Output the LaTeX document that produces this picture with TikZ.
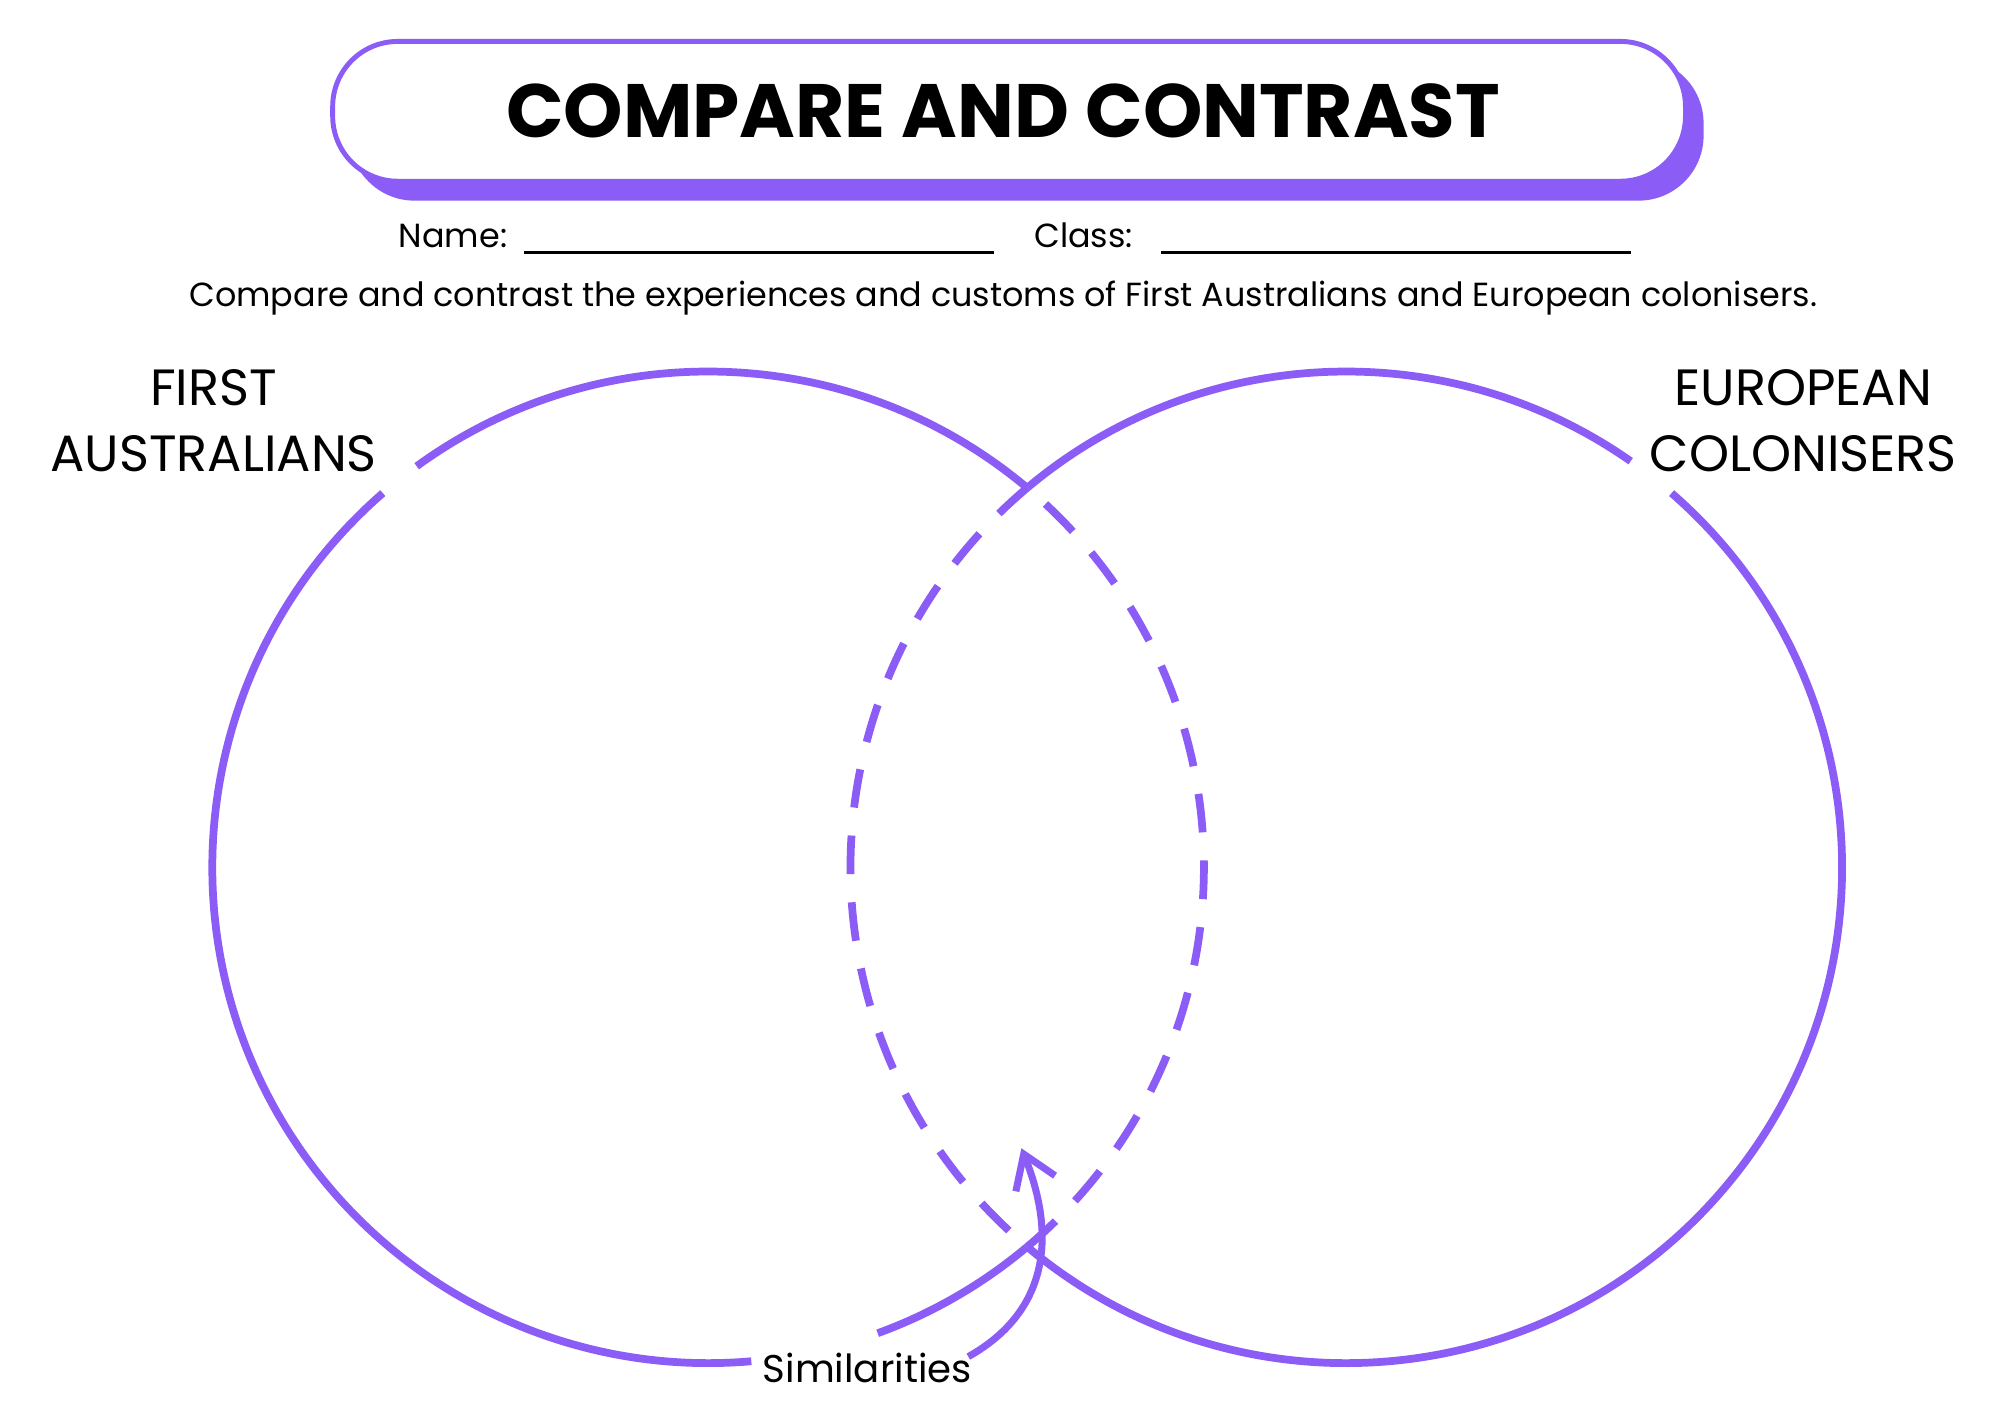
\documentclass[tikz,border=0pt]{standalone}
\usepackage{fontspec}
\setmainfont{Poppins}
\usetikzlibrary{arrows.meta}
\definecolor{vp}{RGB}{139,92,246}
\begin{document}
\begin{tikzpicture}[x=0.012945cm,y=0.012945cm,
  ring/.style={draw=vp,line width=2.2pt},
  ringdash/.style={draw=vp,line width=2.2pt,dash pattern=on 11pt off 8pt},
  lbl/.style={font=\fontsize{14.5}{19}\selectfont,align=center}]
\useasboundingbox[fill=white] (0,0) rectangle (1545,1092);
% title
\fill[vp,rounded corners=0.65cm] (270,937) rectangle (1316,1047);
\draw[vp,fill=white,line width=1.4pt,rounded corners=0.65cm] (257,952) rectangle (1302,1060);
\node[font=\fontsize{21.5}{26}\selectfont\bfseries] (title) at (775,1006) {COMPARE AND CONTRAST};
\node[font=\fontsize{9.5}{11}\selectfont] (name) at (350,910) {Name:};
\draw[line width=0.9pt] (405,897) -- (768,897);
\node[font=\fontsize{9.5}{11}\selectfont] (class) at (837,910) {Class:};
\draw[line width=0.9pt] (897,897) -- (1260,897);
\node[font=\fontsize{9.5}{11}\selectfont] (instr) at (775,862) {Compare and contrast the experiences and customs of First Australians and European colonisers.};
% circles
\coordinate (lc) at (547,422);
\coordinate (rc) at (1040,422);
\draw[ring] ([shift={(50:383)}]lc) arc[start angle=50,end angle=126,radius=383];
\draw[ring] ([shift={(131:383)}]lc) arc[start angle=131,end angle=275,radius=383];
\draw[ring] ([shift={(290:383)}]lc) arc[start angle=290,end angle=310,radius=383];
\draw[ringdash] ([shift={(-50:383)}]lc) arc[start angle=-50,end angle=50,radius=383];
\draw[ring] ([shift={(55:383)}]rc) arc[start angle=55,end angle=130,radius=383];
\draw[ring] ([shift={(230:383)}]rc) arc[start angle=230,end angle=409,radius=383];
\draw[ringdash] ([shift={(130:383)}]rc) arc[start angle=130,end angle=230,radius=383];
% labels
\node[lbl] (fa) at (165,767) {FIRST\\AUSTRALIANS};
\node[lbl] (ec) at (1393,767) {EUROPEAN\\COLONISERS};
\node[font=\fontsize{11}{13}\selectfont] (sim) at (670,35) {Similarities};
\coordinate (as) at (748,44);
\coordinate (ae) at (789,205);
\draw[vp,line width=2pt,-{Straight Barb[length=9pt,width=12pt,line width=2pt]}] (as) .. controls (812,80) and (815,140) .. (ae);
\end{tikzpicture}
\end{document}
